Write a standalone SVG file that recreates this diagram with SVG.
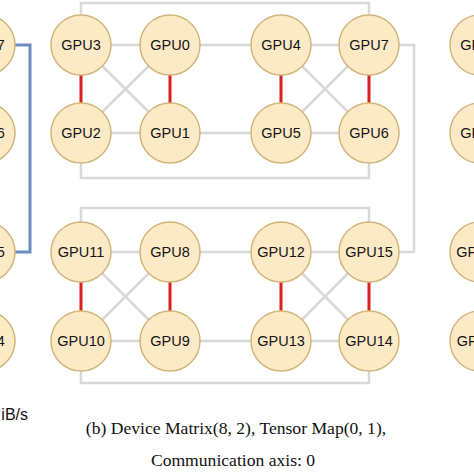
<svg xmlns="http://www.w3.org/2000/svg" width="474" height="474" viewBox="0 0 474 474">
<style>
.bg{fill:#ffffff}
.g{fill:none;stroke:#d8d9db;stroke-width:2.6}
.r{fill:none;stroke:#d9201c;stroke-width:3}
.b{fill:none;stroke:#6c8dbd;stroke-width:3}
.n circle{fill:#fce9c6;stroke:#d2b67a;stroke-width:1.5}
.n text{font-family:"Liberation Sans",Arial,sans-serif;font-size:14.5px;fill:#151515;text-anchor:middle;dominant-baseline:central}
.cap{font-family:"Liberation Serif","Times New Roman",serif;font-size:17.6px;fill:#111;text-anchor:middle}
.lbl{font-family:"Liberation Sans",Arial,sans-serif;font-size:16px;fill:#111}
</style>
<rect class="bg" x="0" y="0" width="474" height="474"/>
<g id="connectors">
<path class="b" d="M15,45 H30 V252 H15"/>
<path class="g" d="M81,15 V3 H369 V15"/>
<path class="g" d="M81,163 V178 H369 V163"/>
<path class="g" d="M81,45 H414 V252 H369"/>
<path class="g" d="M81,133 H369"/>
<path class="g" d="M81,45 L170,133 M170,45 L81,133"/>
<path class="g" d="M281,45 L369,133 M369,45 L281,133"/>
<path class="g" d="M81,222 V208 H369 V222"/>
<path class="g" d="M81,370 V383 H369 V370"/>
<path class="g" d="M81,252 H369"/>
<path class="g" d="M81,341 H369"/>
<path class="g" d="M81,252 L170,341 M170,252 L81,341"/>
<path class="g" d="M281,252 L369,341 M369,252 L281,341"/>
<path class="r" d="M81,75 V103 M170,75 V103 M281,75 V103 M369,75 V103"/>
<path class="r" d="M81,282 V311 M170,282 V311 M281,282 V311 M369,282 V311"/>
</g>
<g id="gpu3" class="n"><circle cx="81" cy="45" r="30"/><text x="81" y="45">GPU3</text></g>
<g id="gpu0" class="n"><circle cx="170" cy="45" r="30"/><text x="170" y="45">GPU0</text></g>
<g id="gpu4" class="n"><circle cx="281" cy="45" r="30"/><text x="281" y="45">GPU4</text></g>
<g id="gpu7" class="n"><circle cx="369" cy="45" r="30"/><text x="369" y="45">GPU7</text></g>
<g id="gpu2" class="n"><circle cx="81" cy="133" r="30"/><text x="81" y="133">GPU2</text></g>
<g id="gpu1" class="n"><circle cx="170" cy="133" r="30"/><text x="170" y="133">GPU1</text></g>
<g id="gpu5" class="n"><circle cx="281" cy="133" r="30"/><text x="281" y="133">GPU5</text></g>
<g id="gpu6" class="n"><circle cx="369" cy="133" r="30"/><text x="369" y="133">GPU6</text></g>
<g id="gpu11" class="n"><circle cx="81" cy="252" r="30"/><text x="81" y="252">GPU11</text></g>
<g id="gpu8" class="n"><circle cx="170" cy="252" r="30"/><text x="170" y="252">GPU8</text></g>
<g id="gpu12" class="n"><circle cx="281" cy="252" r="30"/><text x="281" y="252">GPU12</text></g>
<g id="gpu15" class="n"><circle cx="369" cy="252" r="30"/><text x="369" y="252">GPU15</text></g>
<g id="gpu10" class="n"><circle cx="81" cy="341" r="30"/><text x="81" y="341">GPU10</text></g>
<g id="gpu9" class="n"><circle cx="170" cy="341" r="30"/><text x="170" y="341">GPU9</text></g>
<g id="gpu13" class="n"><circle cx="281" cy="341" r="30"/><text x="281" y="341">GPU13</text></g>
<g id="gpu14" class="n"><circle cx="369" cy="341" r="30"/><text x="369" y="341">GPU14</text></g>
<g id="left7" class="n"><circle cx="-15" cy="45" r="30"/><text x="-15" y="45">GPU7</text></g>
<g id="left6" class="n"><circle cx="-15" cy="133" r="30"/><text x="-15" y="133">GPU6</text></g>
<g id="left5" class="n"><circle cx="-15" cy="252" r="30"/><text x="-15" y="252">GPU5</text></g>
<g id="left4" class="n"><circle cx="-15" cy="341" r="30"/><text x="-15" y="341">GPU4</text></g>
<g id="right0" class="n"><circle cx="480" cy="45" r="30"/><text x="480" y="45">GPU0</text></g>
<g id="right1" class="n"><circle cx="480" cy="133" r="30"/><text x="480" y="133">GPU1</text></g>
<g id="right2" class="n"><circle cx="480" cy="252" r="30"/><text x="480" y="252">GPU10</text></g>
<g id="right3" class="n"><circle cx="480" cy="341" r="30"/><text x="480" y="341">GPU11</text></g>
<text class="lbl" x="28" y="420" text-anchor="end">iB/s</text>
<text class="cap" x="236" y="434">(b) Device Matrix(8, 2), Tensor Map(0, 1),</text>
<text class="cap" x="233" y="466">Communication axis: 0</text>
</svg>
